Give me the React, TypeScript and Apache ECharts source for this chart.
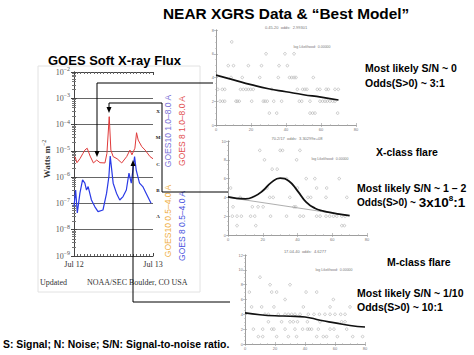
import React, { useEffect, useRef } from "react";
import * as echarts from "echarts";

// ---- GOES soft X-ray flux (hours after Jul 12 00:00, log10 W m^-2) ----
const goesRedTimes = [0.3, 0.9, 1.8, 2.7, 3.3, 4.0, 4.9, 5.9, 6.9, 7.9, 9.4, 10.0, 10.7, 11.2, 11.9, 13.1, 14.5, 16.0, 17.0, 17.6, 18.5, 19.0, 19.5, 20.6, 21.6, 23.1, 24.0];
const goesRedLog = [-5.22, -5.45, -5.3, -5.1, -4.97, -4.9, -5.2, -5.46, -5.35, -5.45, -5.46, -5.1, -3.7, -4.97, -5.22, -5.3, -5.46, -5.22, -4.97, -5.15, -4.9, -4.31, -4.59, -4.84, -4.97, -5.22, -5.3];
const goesBlueTimes = [0.0, 0.5, 1.0, 1.8, 2.6, 3.3, 3.8, 4.3, 5.3, 6.3, 7.3, 8.8, 9.9, 10.6, 11.0, 11.9, 12.9, 13.9, 14.9, 15.9, 16.7, 17.4, 18.4, 18.9, 19.9, 20.9, 21.9, 23.4];
const goesBlueLog = [-7.12, -6.49, -7.36, -6.61, -6.1, -6.23, -6.49, -6.36, -6.87, -7.12, -7.31, -7.25, -6.61, -5.98, -5.2, -6.23, -6.61, -6.87, -6.74, -6.49, -5.85, -6.23, -5.22, -5.73, -6.23, -6.36, -6.61, -6.99];
const goesXLabels = ["Jul 12", "Jul 13"];
const flareClasses = ["X", "M", "C", "B", "A"];
const flareClassLog = [-3.5, -4.5, -5.5, -6.5, -7.5];

// ---- NEAR XGRS counts and best models ----
const quietPoints = [
  [9, 7],
  [28.6, 6], [39.4, 6], [44.6, 6],
  [7, 5], [10, 5], [18.5, 5], [26, 5], [36, 5], [40.8, 5],
  [8.6, 4], [15, 4], [25, 4], [35.6, 4], [42, 4], [43.3, 4], [44.6, 4], [45.7, 4], [55.6, 4],
  [1, 3], [3.6, 3], [5, 3], [14, 3], [15.6, 3], [17.1, 3], [18.5, 3], [19.8, 3], [21.3, 3], [31.8, 3], [46.5, 3], [49.5, 3], [50.8, 3], [52, 3], [57.9, 3], [59.4, 3], [62.9, 3], [64.2, 3], [68, 3], [69.9, 3],
  [2.3, 2], [3.8, 2], [5, 2], [11.4, 2], [12.2, 2], [13.3, 2], [20.4, 2], [27, 2], [28, 2], [29.3, 2], [33, 2], [37.5, 2], [47.6, 2], [49, 2], [53.7, 2], [59.4, 2], [60.9, 2], [62.3, 2], [63.6, 2], [65.1, 2], [66.7, 2], [68, 2],
  [30.5, 1], [34.7, 1], [53.7, 1], [55.2, 1], [56.6, 1], [69.5, 1],
];
const quietModel = [[0, 4.2], [10, 3.8], [20, 3.4], [30, 3.05], [40, 2.8], [50, 2.55], [60, 2.35], [70, 2.1]];

const xFlarePoints = [
  [18.3, 9], [30, 9], [31.4, 9], [41.4, 9],
  [21, 8], [39.5, 8],
  [25.4, 7], [28.3, 7],
  [33.7, 6], [45, 6], [50, 6], [64, 6],
  [1.5, 5], [22.5, 5], [40, 5], [51, 5], [56.8, 5],
  [7, 4], [24, 4], [26, 4], [35.6, 4], [46, 4], [47.6, 4], [56.4, 4], [68.4, 4],
  [2.9, 3], [14, 3], [17.3, 3], [20.2, 3], [38, 3], [39, 3],
  [2.5, 2], [5.2, 2], [7.7, 2], [13, 2], [15.4, 2], [24.5, 2], [33.7, 2], [41.4, 2], [43.4, 2], [51, 2], [53, 2], [56.4, 2], [58.5, 2], [60.7, 2], [62.6, 2], [65.5, 2], [67.4, 2],
  [5.2, 1], [16, 1], [65.5, 1], [67, 1],
];
const xFlareModel = [[0, 4.05], [5, 3.9], [10, 3.85], [15, 4.1], [20, 4.7], [25, 5.6], [30, 6.05], [35, 5.75], [40, 4.7], [45, 3.5], [50, 2.85], [55, 2.55], [60, 2.35], [65, 2.2], [70, 2.05]];
const xFlareBackground = [[0, 4.0], [70, 2.05]];

const mFlarePoints = [
  [10, 9],
  [16.7, 8], [30, 8],
  [2.9, 7], [17.8, 7], [21.1, 7], [40.7, 7], [47.8, 7],
  [26.7, 6], [58.9, 6],
  [4.4, 5], [11.1, 5], [19.3, 5], [38.9, 5], [56.7, 5], [70, 5],
  [13.3, 4], [15.6, 4], [22.2, 4], [26.7, 4], [28.9, 4], [31.1, 4], [33.3, 4], [36.7, 4], [42.2, 4], [46, 4], [49.6, 4], [53.3, 4], [56.7, 4], [60, 4], [63.8, 4], [66.7, 4],
  [15.6, 3], [24.4, 3], [30, 3], [32.2, 3], [35, 3], [41.6, 3], [50, 3], [64.4, 3], [66.7, 3],
  [5.6, 2], [11.8, 2], [17.8, 2], [19.3, 2], [26.7, 2], [33.3, 2], [38.4, 2], [41.6, 2], [42.9, 2], [44.4, 2], [48.9, 2], [56.7, 2], [59.3, 2], [67.8, 2],
  [8.9, 1], [11.8, 1], [21.1, 1], [28.9, 1], [34.4, 1], [47.8, 1], [52.2, 1], [54.4, 1], [61.6, 1], [71.8, 1], [78.4, 1],
];
const mFlareModel = [[0, 4.2], [10, 3.95], [20, 3.8], [30, 3.75], [40, 3.65], [50, 3.2], [60, 2.85], [70, 2.5], [80, 2.3]];

const panelTitles = ["0.45-20  odds:  2.99301", "70.2/17  odds:  3.30299e+08", "17.04-40  odds:  4.6277"];
const likelihoodLabel = "log Likelihood:  0.00000";

const SANS = "'Liberation Sans', Arial, sans-serif";
const SERIF = "'Liberation Serif', 'Times New Roman', serif";

export default function App() {
  const ref = useRef<HTMLDivElement>(null);
  useEffect(() => {
    document.body.style.margin = "0";
    if (!ref.current) return;
    const chart = echarts.init(ref.current, undefined, { renderer: "svg" });

    const grids: any[] = [
      { left: 74, top: 72, width: 79, height: 184 },
      { left: 216, top: 30, width: 140, height: 95 },
      { left: 228, top: 141, width: 139, height: 94 },
      { left: 245, top: 255, width: 120, height: 89 },
    ].map((g) => ({ ...g, show: false, containLabel: false }));

    const goesTop = 72, decadePx = 184 / 7;
    const yOf = (lg: number) => goesTop + (-2 - lg) * decadePx;

    const xAxes: any[] = [];
    const yAxes: any[] = [];
    xAxes.push({
      gridIndex: 0, type: "value", min: 0, max: 24, interval: 24, position: "bottom",
      axisLine: { show: true, lineStyle: { color: "#444", width: 1 } },
      axisTick: { show: true, inside: true, length: 3, lineStyle: { color: "#444" } },
      minorTick: { show: true, splitNumber: 24, length: 2, lineStyle: { color: "#666" } },
      splitLine: { show: false },
      axisLabel: { fontSize: 8, fontFamily: SERIF, color: "#333", margin: 4, formatter: (v: number) => (v === 0 ? goesXLabels[0] : goesXLabels[1]) },
    });
    xAxes.push({
      gridIndex: 0, type: "value", min: 0, max: 24, interval: 24, position: "top",
      axisLine: { show: true, lineStyle: { color: "#444", width: 1 } },
      axisTick: { show: true, inside: true, length: 3, lineStyle: { color: "#444" } },
      minorTick: { show: true, splitNumber: 24, length: 2, lineStyle: { color: "#666" } },
      splitLine: { show: false }, axisLabel: { show: false },
    });
    yAxes.push({
      gridIndex: 0, type: "log", logBase: 10, min: 1e-9, max: 1e-2, splitNumber: 7, position: "left",
      axisLine: { show: true, lineStyle: { color: "#444", width: 1 } },
      axisTick: { show: true, inside: true, length: 3, lineStyle: { color: "#444" } },
      minorTick: { show: true, splitNumber: 8, length: 2, lineStyle: { color: "#777" } },
      splitLine: { show: true, lineStyle: { color: "#666", width: 1 } },
      axisLabel: {
        margin: 4, color: "#555", fontFamily: SERIF, fontSize: 8, showMinLabel: true, showMaxLabel: true,
        formatter: (v: number) => "10{s|" + String(Math.round(Math.log10(v))).replace("-", "−") + "}",
        rich: { s: { fontSize: 6, fontFamily: SERIF, color: "#555", padding: [0, 0, 6, 0] } },
      },
    });
    yAxes.push({
      gridIndex: 0, type: "log", logBase: 10, min: 1e-9, max: 1e-2, splitNumber: 7, position: "right",
      axisLine: { show: true, lineStyle: { color: "#444", width: 1 } },
      axisTick: { show: true, inside: true, length: 3, lineStyle: { color: "#444" } },
      minorTick: { show: true, splitNumber: 8, length: 2, lineStyle: { color: "#777" } },
      splitLine: { show: false }, axisLabel: { show: false },
    });

    const yMaxes = [8, 10, 12];
    for (let i = 0; i < 3; i++) {
      const gi = i + 1;
      const base = {
        gridIndex: gi, type: "value",
        axisLine: { show: true, lineStyle: { color: "#999", width: 0.8 } },
        axisTick: { show: true, inside: true, length: 2, lineStyle: { color: "#999", width: 0.6 } },
        minorTick: { show: true, splitNumber: 4, length: 1, lineStyle: { color: "#aaa", width: 0.5 } },
        splitLine: { show: false },
      };
      xAxes.push({ ...base, min: 0, max: 80, interval: 20, position: "bottom", axisLabel: { fontSize: 4, color: "#777", margin: 2 } });
      xAxes.push({ ...base, min: 0, max: 80, interval: 20, position: "top", axisLabel: { show: false } });
      yAxes.push({ ...base, min: 0, max: yMaxes[i], interval: 2, position: "left", axisLabel: { fontSize: 4, color: "#777", margin: 2 } });
      yAxes.push({ ...base, min: 0, max: yMaxes[i], interval: 2, position: "right", axisLabel: { show: false } });
    }

    const pointStyle = { color: "rgba(255,255,255,0)", borderColor: "#9a9a9a", borderWidth: 0.6 };
    const scatterBase = { type: "scatter", symbol: "circle", symbolSize: 2.6, itemStyle: pointStyle, z: 2 };
    const series: any[] = [
      {
        type: "line", xAxisIndex: 0, yAxisIndex: 0, showSymbol: false, symbol: "none",
        lineStyle: { color: "#e03a3a", width: 1 },
        data: goesRedTimes.map((t, i) => [t, Math.pow(10, goesRedLog[i])]),
      },
      {
        type: "line", xAxisIndex: 0, yAxisIndex: 0, showSymbol: false, symbol: "none",
        lineStyle: { color: "#2a3ae6", width: 1.2 },
        data: goesBlueTimes.map((t, i) => [t, Math.pow(10, goesBlueLog[i])]),
      },
      { ...scatterBase, xAxisIndex: 2, yAxisIndex: 2, data: quietPoints },
      { type: "line", xAxisIndex: 2, yAxisIndex: 2, smooth: true, showSymbol: false, symbol: "none", lineStyle: { color: "#111", width: 1.6 }, data: quietModel, z: 3 },
      { ...scatterBase, xAxisIndex: 4, yAxisIndex: 4, data: xFlarePoints },
      { type: "line", xAxisIndex: 4, yAxisIndex: 4, showSymbol: false, symbol: "none", lineStyle: { color: "#999", width: 0.8 }, data: xFlareBackground, z: 3 },
      { type: "line", xAxisIndex: 4, yAxisIndex: 4, smooth: true, showSymbol: false, symbol: "none", lineStyle: { color: "#111", width: 1.8 }, data: xFlareModel, z: 3 },
      { ...scatterBase, xAxisIndex: 6, yAxisIndex: 6, data: mFlarePoints },
      { type: "line", xAxisIndex: 6, yAxisIndex: 6, smooth: true, showSymbol: false, symbol: "none", lineStyle: { color: "#111", width: 1.6 }, data: mFlareModel, z: 3 },
    ];

    const boldText = (text: string, x: number, y: number, size: number, extra: any = {}) => ({
      type: "text", x, y,
      style: { text, fontFamily: SANS, fontWeight: "bold", fontSize: size, fill: "#000", align: "left", verticalAlign: "middle", ...extra },
    });
    const line = (pts: number[][]) => ({ type: "polyline", shape: { points: pts }, style: { stroke: "#000", lineWidth: 1, fill: "none" }, z: 10 });
    const tri = (pts: number[][]) => ({ type: "polygon", shape: { points: pts }, style: { fill: "#000" }, z: 10 });
    const vtext = (text: string, x: number, y: number, color: string) => ({
      type: "text", x, y, rotation: Math.PI / 2,
      style: { text, fontFamily: SANS, fontSize: 8.5, fill: color, align: "center", verticalAlign: "middle" },
    });

    const graphic: any[] = [
      { type: "rect", shape: { x: 38, y: 66, width: 162, height: 226 }, style: { stroke: "#e2e2e2", lineWidth: 1, fill: "none" }, z: -1 },
      boldText("NEAR XGRS Data & \u201cBest Model\u201d", 163, 13, 15.4),
      boldText("GOES Soft X-ray Flux", 48, 60, 13),
      {
        type: "text", x: 47, y: 159, rotation: Math.PI / 2,
        style: { text: "Watts m{s|−2}", fontFamily: SERIF, fontWeight: "bold", fontSize: 9, fill: "#333", align: "center", verticalAlign: "middle",
          rich: { s: { fontFamily: SERIF, fontSize: 6, fill: "#333", padding: [0, 0, 6, 0] } } },
      },
      vtext("GOES10 1.0\u20138.0 A", 168, 131, "#7a72d8"),
      vtext("GOES 8 1.0\u20138.0 A", 182, 131, "#e25050"),
      vtext("GOES10 0.5\u20134.0 A", 168, 221, "#f0b048"),
      vtext("GOES 8 0.5\u20134.0 A", 182, 226, "#4a55e0"),
      ...flareClasses.map((c, i) => ({
        type: "text", x: 158, y: yOf(flareClassLog[i]),
        style: { text: c, fontFamily: SERIF, fontWeight: "bold", fontSize: 5, fill: "#222", align: "center", verticalAlign: "middle" },
      })),
      { type: "text", x: 40, y: 282, style: { text: "Updated", fontFamily: SERIF, fontSize: 8, fill: "#333", verticalAlign: "middle" } },
      { type: "text", x: 87, y: 282, style: { text: "NOAA/SEC Boulder, CO USA", fontFamily: SERIF, fontSize: 8, fill: "#333", verticalAlign: "middle" } },
      line([[213, 83], [97, 83], [97, 152]]),
      tri([[94.5, 151], [99.5, 151], [97, 157]]),
      line([[109, 108], [109, 103], [162, 103], [162, 192], [228, 192]]),
      tri([[106.5, 107], [111.5, 107], [109, 113]]),
      line([[133, 165], [133, 302], [230, 302]]),
      tri([[130.5, 166], [135.5, 166], [133, 160]]),
      ...panelTitles.map((t, i) => ({
        type: "text", x: [286, 297, 305][i], y: [27, 138, 251][i],
        style: { text: t, fontFamily: SANS, fontSize: 4, fill: "#777", align: "center", verticalAlign: "middle" },
      })),
      ...[0, 1, 2].map((i) => ({
        type: "text", x: [312, 330, 334][i], y: [47, 159, 270][i],
        style: { text: likelihoodLabel, fontFamily: SANS, fontSize: 3.5, fill: "#777", align: "center", verticalAlign: "middle" },
      })),
      boldText("Most likely S/N ~ 0", 365, 68, 10.5),
      boldText("Odds(S>0) ~ 3:1", 365, 83, 10.5),
      boldText("X-class flare", 376, 152, 10.5),
      boldText("Most likely S/N ~ 1 \u2013 2", 357, 188, 10.5),
      {
        type: "text", x: 357, y: 202,
        style: { text: "Odds(S>0) ~ {b|3x10}{s|8}{b|:1}", fontFamily: SANS, fontWeight: "bold", fontSize: 10, fill: "#000", verticalAlign: "middle",
          rich: { b: { fontFamily: SANS, fontWeight: "bold", fontSize: 13.5, fill: "#000" }, s: { fontFamily: SANS, fontWeight: "bold", fontSize: 8, fill: "#000", padding: [0, 0, 7, 0] } } },
      },
      boldText("M-class flare", 387, 262, 10.5),
      boldText("Most likely S/N ~ 1/10", 357, 293, 10.5),
      boldText("Odds(S>0) ~ 10:1", 357, 307, 10.5),
      boldText("S: Signal; N: Noise; S/N: Signal-to-noise ratio.", 3, 344, 10.4),
    ];

    chart.setOption({
      animation: false,
      backgroundColor: "#fff",
      grid: grids,
      xAxis: xAxes,
      yAxis: yAxes,
      series,
      graphic,
    });
    return () => chart.dispose();
  }, []);
  return <div ref={ref} style={{ width: 474, height: 355 }} />;
}
